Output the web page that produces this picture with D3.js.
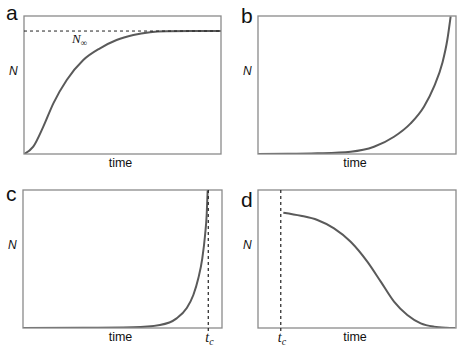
<!DOCTYPE html>
<html>
<head>
<meta charset="utf-8">
<script src="https://cdn.jsdelivr.net/npm/d3@7"></script>
<style>
  html, body { margin: 0; padding: 0; background: #fff; }
  svg { display: block; }
</style>
</head>
<body>
<svg id="chart" width="474" height="348"></svg>
<script>
// Panel letters
const panelLetters = ["a", "b", "c", "d"];

// Normalised time (0..1) and population N (fraction of axis height)
const logisticTime = [0, 0.047, 0.098, 0.149, 0.217, 0.301, 0.386, 0.47, 0.555, 0.64, 0.724, 0.85, 1.0];
const logisticN    = [0, 0.053, 0.198, 0.367, 0.536, 0.681, 0.766, 0.826, 0.862, 0.882, 0.889, 0.891, 0.891];
const carryingCapacity = 0.891;

const expTime = [0, 0.15, 0.30, 0.468, 0.586, 0.687, 0.771, 0.838, 0.889, 0.931, 0.956, 0.973];
const expN    = [0, 0.001, 0.005, 0.017, 0.053, 0.125, 0.222, 0.343, 0.488, 0.659, 0.826, 0.998];

const hyperTime = [0, 0.3, 0.554, 0.688, 0.772, 0.822, 0.856, 0.881, 0.901, 0.915, 0.923, 0.928];
const hyperN    = [0, 0.001, 0.005, 0.022, 0.07, 0.143, 0.239, 0.36, 0.505, 0.674, 0.819, 0.998];
const criticalTimeC = 0.931;

const decayTime = [0.128, 0.216, 0.3, 0.384, 0.468, 0.552, 0.62, 0.687, 0.754, 0.822, 0.889, 0.95, 0.995];
const decayN    = [0.836, 0.814, 0.783, 0.722, 0.625, 0.481, 0.336, 0.191, 0.094, 0.034, 0.01, 0.002, 0];
const criticalTimeD = 0.115;

const svg = d3.select("#chart");

const panels = [
  { letter: panelLetters[0], x0: 24,  y0: 16,  w: 197, h: 138, t: logisticTime, n: logisticN, lx: 6,   ly: 20 },
  { letter: panelLetters[1], x0: 258, y0: 16,  w: 198, h: 138, t: expTime,      n: expN,      lx: 241, ly: 23 },
  { letter: panelLetters[2], x0: 23,  y0: 190, w: 199, h: 138, t: hyperTime,    n: hyperN,    lx: 6,   ly: 201 },
  { letter: panelLetters[3], x0: 258, y0: 190, w: 198, h: 138, t: decayTime,    n: decayN,    lx: 241, ly: 207 }
];

panels.forEach((p, i) => {
  const g = svg.append("g").attr("transform", `translate(${p.x0},${p.y0})`);
  const x = d3.scaleLinear().domain([0, 1]).range([0, p.w]);
  const y = d3.scaleLinear().domain([0, 1]).range([p.h, 0]);
  p.x = x; p.y = y; p.g = g;

  // clip so the steep curves stop at the frame
  const clipId = "clip" + i;
  g.append("clipPath").attr("id", clipId)
    .append("rect").attr("x", 0).attr("y", 0).attr("width", p.w).attr("height", p.h);

  const pts = p.t.map((tv, k) => [tv, p.n[k]]);
  const line = d3.line().x(d => x(d[0])).y(d => y(d[1])).curve(d3.curveMonotoneX);

  g.append("path")
    .attr("d", line(pts))
    .attr("clip-path", `url(#${clipId})`)
    .attr("fill", "none")
    .attr("stroke", "#5a5a5a")
    .attr("stroke-width", 2);

  // frame
  g.append("rect")
    .attr("x", 0).attr("y", 0).attr("width", p.w).attr("height", p.h)
    .attr("fill", "none")
    .attr("stroke", "#8a8a8a")
    .attr("stroke-width", 1.3);

  // axis titles
  g.append("text")
    .attr("x", p.w / 2 - 2).attr("y", p.h + 13)
    .attr("text-anchor", "middle")
    .attr("font-family", "Liberation Sans, Arial, sans-serif")
    .attr("font-size", 12.5)
    .attr("fill", "#111")
    .text("time");

  g.append("text")
    .attr("x", -15).attr("y", y(0.57))
    .attr("font-family", "Liberation Sans, Arial, sans-serif")
    .attr("font-style", "italic")
    .attr("font-size", 12)
    .attr("fill", "#111")
    .text("N");

  // panel letter
  svg.append("text")
    .attr("x", p.lx).attr("y", p.ly)
    .attr("font-family", "Liberation Sans, Arial, sans-serif")
    .attr("font-size", 21)
    .attr("fill", "#111")
    .text(p.letter);
});

// carrying capacity line in panel a
{
  const p = panels[0];
  p.g.append("line")
    .attr("x1", 0).attr("x2", p.w)
    .attr("y1", p.y(carryingCapacity)).attr("y2", p.y(carryingCapacity))
    .attr("stroke", "#222").attr("stroke-width", 1)
    .attr("stroke-dasharray", "3,3");
  const lab = p.g.append("text")
    .attr("x", 48).attr("y", p.y(carryingCapacity) + 12)
    .attr("font-family", "Liberation Serif, Times New Roman, serif")
    .attr("font-style", "italic")
    .attr("font-size", 13)
    .attr("fill", "#111");
  lab.append("tspan").text("N");
  lab.append("tspan").attr("dy", 3).attr("font-size", 9).text("∞");
}

// critical time markers in panels c and d
[[panels[2], criticalTimeC], [panels[3], criticalTimeD]].forEach(([p, tc]) => {
  p.g.append("line")
    .attr("x1", p.x(tc)).attr("x2", p.x(tc))
    .attr("y1", 0).attr("y2", p.h + 3)
    .attr("stroke", "#222").attr("stroke-width", 1.2)
    .attr("stroke-dasharray", "3,3");
  const lab = p.g.append("text")
    .attr("x", p.x(tc) - 3).attr("y", p.h + 14)
    .attr("font-family", "Liberation Serif, Times New Roman, serif")
    .attr("font-style", "italic")
    .attr("font-size", 14)
    .attr("fill", "#111");
  lab.append("tspan").text("t");
  lab.append("tspan").attr("dy", 3).attr("font-size", 10).text("c");
});
</script>
</body>
</html>
